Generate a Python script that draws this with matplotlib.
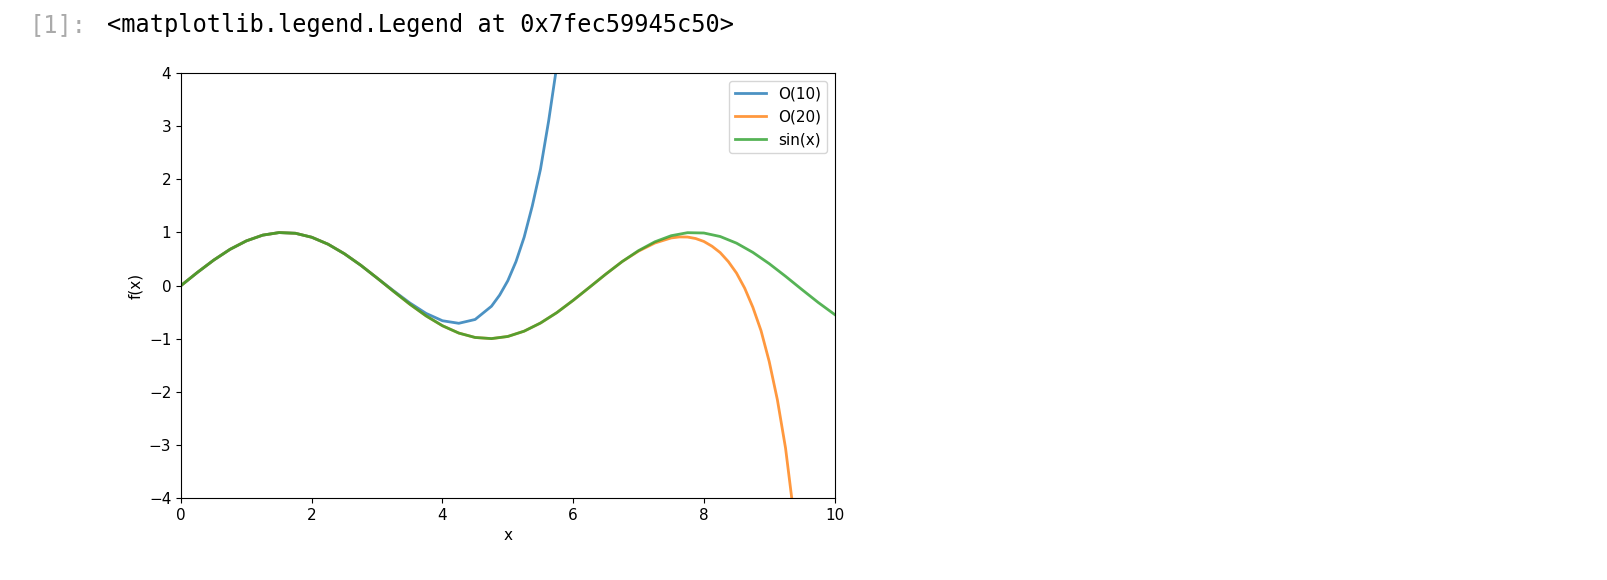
import matplotlib.pyplot as plt

# values (x step 0.25)
x_sin = [0, 0.25, 0.5, 0.75, 1, 1.25, 1.5, 1.75, 2, 2.25, 2.5, 2.75, 3, 3.25, 3.5, 3.75, 4, 4.25, 4.5, 4.75,
         5, 5.25, 5.5, 5.75, 6, 6.25, 6.5, 6.75, 7, 7.25, 7.5, 7.75, 8, 8.25, 8.5, 8.75, 9, 9.25, 9.5, 9.75, 10]
y_sin = [0, 0.247, 0.479, 0.682, 0.841, 0.949, 0.997, 0.984, 0.909, 0.778, 0.598, 0.382, 0.141, -0.108,
         -0.351, -0.572, -0.757, -0.895, -0.978, -0.999, -0.959, -0.859, -0.706, -0.510, -0.279, -0.033,
         0.215, 0.451, 0.657, 0.823, 0.938, 0.995, 0.989, 0.923, 0.798, 0.624, 0.412, 0.174, -0.075, -0.319, -0.544]

x_o10 = x_sin[:13] + [3.25, 3.5, 3.75, 4, 4.25, 4.5, 4.75, 4.875, 5, 5.125, 5.25, 5.375, 5.5, 5.625, 5.75, 6]
y_o10 = y_sin[:13] + [-0.097, -0.327, -0.525, -0.663, -0.711, -0.639, -0.39, -0.18, 0.09, 0.45, 0.91, 1.5,
                      2.19, 3.1, 4.14, 7.03]

x_o20 = x_sin[:28] + [7, 7.25, 7.5, 7.625, 7.75, 7.875, 8, 8.125, 8.25, 8.375, 8.5, 8.625, 8.75, 8.875,
                      9, 9.125, 9.25, 9.375, 9.5]
y_o20 = y_sin[:28] + [0.647, 0.80, 0.896, 0.915, 0.913, 0.885, 0.83, 0.74, 0.62, 0.45, 0.234, -0.05,
                      -0.41, -0.85, -1.43, -2.15, -3.06, -4.3, -5.70]

fig = plt.figure(figsize=(16.08, 5.8), dpi=100)
ax = fig.add_axes([0.1126, 0.1414, 0.4064, 0.7326])

ax.plot(x_o10, y_o10, label='O(10)', color='#1f77b4', alpha=0.8, lw=2)
ax.plot(x_o20, y_o20, label='O(20)', color='#ff7f0e', alpha=0.8, lw=2)
ax.plot(x_sin, y_sin, label='sin(x)', color='#2ca02c', alpha=0.8, lw=2)

ax.set_xlim(0, 10)
ax.set_ylim(-4, 4)
ax.set_xlabel('x', fontsize=11)
ax.set_ylabel('f(x)', fontsize=11)
ax.tick_params(labelsize=11)
ax.legend(fontsize=11)

fig.text(30 / 1608, 1 - 25 / 580, '[1]:', family='DejaVu Sans Mono', fontsize=17, color='#aaaaaa', va='center')
fig.text(107 / 1608, 1 - 25 / 580, '<matplotlib.legend.Legend at 0x7fec59945c50>',
         family='DejaVu Sans Mono', fontsize=17, va='center')

fig.savefig('out.png', dpi=100)
